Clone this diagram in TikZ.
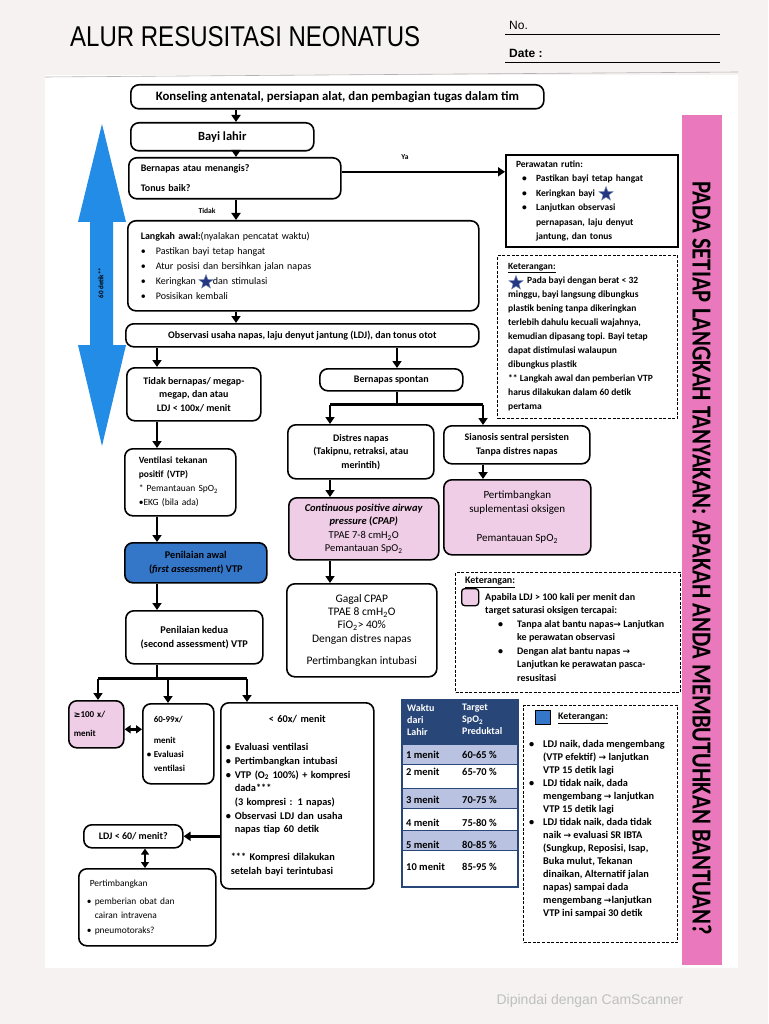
\documentclass[tikz,border=0pt]{standalone}
\usepackage{fontspec}
\setmainfont{Carlito}
\newfontfamily\hand{Liberation Sans}
\newfontfamily\djv{DejaVu Sans}
\usetikzlibrary{arrows.meta,shapes.geometric,calc}
\definecolor{pinkbox}{RGB}{240,205,230}
\definecolor{bluebox}{RGB}{52,118,200}
\definecolor{arrowblue}{RGB}{34,140,230}
\definecolor{stripc}{RGB}{234,120,188}
\definecolor{tabdark}{RGB}{40,70,120}
\definecolor{tabrow}{RGB}{185,195,225}
\definecolor{starblue}{RGB}{35,55,130}
\definecolor{bgc}{RGB}{246,242,242}
\newcommand{\fs}[2]{\fontsize{#1}{#2}\selectfont}
\newcommand{\bu}[1]{\makebox[#1][l]{\textbullet}}
\newcommand{\ra}{{\djv\bfseries\small →}}
\tikzset{
 box/.style={draw, line width=1.6pt, rounded corners=8pt, anchor=north west, inner sep=0pt, align=center, font=\bfseries\fs{10}{13.5}},
 arr/.style={line width=2.4pt, -{Triangle[length=7pt,width=9pt]}},
 darr/.style={line width=2.4pt, {Triangle[length=6pt,width=8pt]}-{Triangle[length=6pt,width=8pt]}},
 bar/.style={line width=2.8pt},
 dbox/.style={draw, line width=1.3pt, dash pattern=on 3pt off 1.6pt, anchor=north west, inner sep=0pt},
 txt/.style={anchor=north west, inner sep=0pt, align=left, font=\bfseries\fs{9.5}{13}},
 cell/.style={anchor=base west, inner sep=0pt, font=\bfseries\fs{10.5}{11}},
 bstar/.style={star, star points=5, star point ratio=2.4, fill=starblue, draw=starblue!60!white, line width=0.4pt, minimum size=15pt, inner sep=0pt},
}
\begin{document}
\begin{tikzpicture}[x=1pt,y=-1pt]
\useasboundingbox (0,0) rectangle (768,1024);
\fill[bgc] (0,0) rectangle (768,1024);
\fill[white] (45,75) rectangle (738,968);
\draw[gray!60, line width=0.6pt] (45,77) -- (738,72);

% header
\node[anchor=west, inner sep=0pt] (title) at (70,37) {\hand\resizebox{350pt}{20pt}{ALUR RESUSITASI NEONATUS}};
\node[anchor=base west, inner sep=0pt, font=\hand\fs{12}{14}] (no) at (509,30) {No.};
\draw[line width=0.8pt] (505,34) -- (720,34);
\node[anchor=base west, inner sep=0pt, font=\hand\bfseries\fs{12}{14}] (date) at (509,58) {Date :};
\draw[line width=0.8pt] (505,62) -- (720,62);
\node[text=gray!50, font=\hand\fs{14}{16}] (cs) at (590,1001) {Dipindai dengan CamScanner};

% column helpers
\coordinate (x98) at (98,0);
\coordinate (x145) at (145,0);
\coordinate (x157) at (157,0);
\coordinate (x168) at (168,0);
\coordinate (x236) at (236,0);
\coordinate (x247) at (247,0);
\coordinate (x330) at (330,0);
\coordinate (x397) at (397,0);
\coordinate (x483) at (483,0);

% pink strip
\fill[stripc] (682,115) rectangle (722,965);
\node[rotate=-90, inner sep=0pt] (strip) at (702,558) {\resizebox{753pt}{19pt}{\bfseries PADA SETIAP LANGKAH TANYAKAN: APAKAH ANDA MEMBUTUHKAN BANTUAN?}};

% blue double arrow
\fill[arrowblue] (102,124) -- (126,222) -- (113,222) -- (113,345) -- (126,345) -- (102,446) -- (78,345) -- (90,345) -- (90,222) -- (78,222) -- cycle;
\node[rotate=90, font=\bfseries\fs{7}{8}] (sixty) at (101,283) {60 detik**};

% main boxes
\node[box, minimum width=413pt, minimum height=24pt, font=\bfseries\fs{12.8}{14}] (kons) at (130,84) {Konseling antenatal, persiapan alat, dan pembagian tugas dalam tim};
\node[box, minimum width=183pt, minimum height=28pt, font=\bfseries\fs{12.5}{14}] (bayi) at (130,122) {Bayi lahir};
\node[box, minimum width=212pt, minimum height=41pt, text width=188pt, align=left, font=\bfseries\fs{10}{20}] (bern) at (128,157) {Bernapas atau menangis?\\Tonus baik?};
\node[draw, line width=2pt, anchor=north west, minimum width=172pt, minimum height=92pt, inner sep=0pt, text width=152pt, align=left, font=\bfseries\fs{9.5}{14.5}] (rutin) at (505,154) {Perawatan rutin:\\
\hspace*{6pt}\bu{14pt}Pastikan bayi tetap hangat\\
\hspace*{6pt}\bu{14pt}Keringkan bayi\\
\hspace*{6pt}\bu{14pt}\makebox[130pt][s]{Lanjutkan observasi}\\
\hspace*{20pt}\makebox[130pt][s]{pernapasan, laju denyut}\\
\hspace*{20pt}jantung, dan tonus};
\node[bstar] (st2) at (606,194) {};

\node[box, minimum width=351pt, minimum height=90pt, text width=325pt, align=left, font=\fs{10}{15}] (langkah) at (127,220) {\textbf{Langkah awal:}(nyalakan pencatat waktu)\\
\bu{15pt}Pastikan bayi tetap hangat\\
\bu{15pt}Atur posisi dan bersihkan jalan napas\\
\bu{15pt}Keringkan\hspace{17pt}dan stimulasi\\
\bu{15pt}Posisikan kembali};
\node[bstar] (st1) at (206,282) {};

\node[box, minimum width=353pt, minimum height=23pt] (obs) at (125,323) {Observasi usaha napas, laju denyut jantung (LDJ), dan tonus otot};
\node[box, minimum width=134pt, minimum height=53pt] (tidakb) at (126,367) {Tidak bernapas/ megap-\\megap, dan atau\\LDJ < 100x/ menit};
\node[box, minimum width=143pt, minimum height=22pt] (spontan) at (319,368) {Bernapas spontan};
\node[box, minimum width=146pt, minimum height=54pt] (distres) at (287,424) {Distres napas\\(Takipnu, retraksi, atau\\merintih)};
\node[box, minimum width=146pt, minimum height=38pt] (sian) at (443,425) {Sianosis sentral persisten\\Tanpa distres napas};
\node[box, minimum width=111pt, minimum height=67pt, text width=83pt, align=left, font=\bfseries\fs{9.5}{14}] (vent) at (124,448) {Ventilasi tekanan\\positif (VTP)\\{\mdseries * Pemantauan SpO\textsubscript{2}}\\{\mdseries\textbullet EKG (bila ada)}};
\node[box, fill=bluebox, minimum width=142pt, minimum height=40pt, font=\bfseries\fs{10.3}{14}] (awal) at (124,542) {Penilaian awal\\({\itshape first assessment}) VTP};
\node[box, minimum width=137pt, minimum height=53pt, font=\bfseries\fs{10.3}{14}] (kedua) at (125,610) {Penilaian kedua\\(second assessment) VTP};
\node[box, fill=pinkbox, minimum width=150pt, minimum height=62pt, font=\fs{10.5}{13.5}] (cpap) at (288,497) {\textbf{\itshape Continuous positive airway}\\\textbf{\itshape pressure} \textbf{(\itshape CPAP)}\\TPAE 7-8 cmH\textsubscript{2}O\\Pemantauan SpO\textsubscript{2}};
\node[box, fill=pinkbox, minimum width=147pt, minimum height=75pt, font=\fs{11}{14}] (supl) at (443,479) {Pertimbangkan\\suplementasi oksigen\\[15pt]Pemantauan SpO\textsubscript{2}};
\node[box, minimum width=150pt, minimum height=93pt, font=\fs{11.5}{13.3}] (gagal) at (286,583) {Gagal CPAP\\TPAE 8 cmH\textsubscript{2}O\\FiO\textsubscript{2}> 40\%\\Dengan distres napas\\[9pt]Pertimbangkan intubasi};

\node[box, fill=pinkbox, minimum width=55pt, minimum height=47pt, text width=45pt, align=left, font=\bfseries\fs{9}{19}] (ge) at (68,700) {{\djv\bfseries\footnotesize ≥}100 x/\\menit};
\node[box, minimum width=71pt, minimum height=80pt, text width=63pt, align=left, font=\bfseries\fs{9}{14}] (m6099) at (142,703) {\hspace*{7pt}60-99x/\\[7pt]\hspace*{7pt}menit\\\bu{7pt}Evaluasi\\\hspace*{7pt}ventilasi};
\node[box, minimum width=153pt, minimum height=186pt, text width=143pt, align=left, font=\bfseries\fs{10.3}{13.7}] (lt60) at (220,702) {\makebox[143pt][c]{< 60x/ menit}\\[14pt]
\bu{9pt}Evaluasi ventilasi\\
\bu{9pt}Pertimbangkan intubasi\\
\bu{9pt}VTP (O\textsubscript{2} 100\%) + kompresi\\
\hspace*{9pt}dada***\\
\hspace*{9pt}(3 kompresi : 1 napas)\\
\bu{9pt}Observasi LDJ dan usaha\\
\hspace*{9pt}napas tiap 60 detik\\[14pt]
\hspace*{5pt}*** Kompresi dilakukan\\
\hspace*{5pt}setelah bayi terintubasi};
\node[box, minimum width=99pt, minimum height=23pt, font=\bfseries\fs{10}{11}] (ldj) at (83,824) {LDJ < 60/ menit?};
\node[box, minimum width=137pt, minimum height=77pt, text width=121pt, align=left, font=\fs{9.4}{14.5}] (pert) at (78,868) {\hspace*{3pt}Pertimbangkan\\[3pt]\bu{8pt}pemberian obat dan\\\hspace*{8pt}cairan intravena\\\bu{8pt}pneumotoraks?};

% legend boxes
\node[dbox, minimum width=180pt, minimum height=163pt] (ket1) at (497,255) {};
\node[txt, font=\bfseries\fs{9.5}{14}] (ket1t) at (508,263) {\underline{Keterangan:}\\
\hspace*{19pt}Pada bayi dengan berat < 32\\
minggu, bayi langsung dibungkus\\
plastik bening tanpa dikeringkan\\
terlebih dahulu kecuali wajahnya,\\
kemudian dipasang topi. Bayi tetap\\
dapat distimulasi walaupun\\
dibungkus plastik\\
** Langkah awal dan pemberian VTP\\
harus dilakukan dalam 60 detik\\
pertama};
\node[bstar] (st3) at (516,283) {};

\node[dbox, minimum width=225pt, minimum height=120pt] (ket2) at (455,572) {};
\node[draw, fill=pinkbox, line width=1.3pt, rounded corners=3pt, anchor=north west, minimum width=17pt, minimum height=17pt, inner sep=0pt] (ket2sq) at (461,588) {};
\node[txt, font=\bfseries\fs{10}{13.5}] (ket2t) at (465,577) {\underline{Keterangan:}\\[3pt]
\hspace*{20pt}Apabila LDJ > 100 kali per menit dan\\
\hspace*{20pt}target saturasi oksigen tercapai:\\
\hspace*{33pt}\bu{19pt}Tanpa alat bantu napas\ra{} Lanjutkan\\
\hspace*{52pt}ke perawatan observasi\\
\hspace*{33pt}\bu{19pt}Dengan alat bantu napas \ra\\
\hspace*{52pt}Lanjutkan ke perawatan pasca-\\
\hspace*{52pt}resusitasi};

% table
\fill[tabdark] (402,700) rectangle (518,745);
\fill[tabrow] (402,745) rectangle (518,764);
\fill[tabrow] (402,788) rectangle (518,808);
\fill[tabrow] (402,830) rectangle (518,850);
\draw[tabdark, line width=0.8pt] (402,764) -- (518,764) (402,788) -- (518,788) (402,808) -- (518,808) (402,830) -- (518,830) (402,850) -- (518,850);
\draw[tabdark, line width=1.3pt] (402,700) rectangle (518,887);
\node[txt, text=white, font=\bfseries\fs{10}{12}] (th1) at (407,704) {Waktu\\dari\\Lahir};
\node[txt, text=white, font=\bfseries\fs{10}{12}] (th2) at (462,704) {Target\\SpO\textsubscript{2}\\Preduktal};
\node[cell] (r1a) at (406,758) {1 menit};  \node[cell] (r1b) at (462,758) {60-65 \%};
\node[cell] (r2a) at (406,775) {2 menit};  \node[cell] (r2b) at (462,775) {65-70 \%};
\node[cell] (r3a) at (406,803) {3 menit};  \node[cell] (r3b) at (462,803) {70-75 \%};
\node[cell] (r4a) at (406,826) {4 menit};  \node[cell] (r4b) at (462,826) {75-80 \%};
\node[cell] (r5a) at (406,848) {5 menit};  \node[cell] (r5b) at (462,848) {80-85 \%};
\node[cell] (r6a) at (406,870) {10 menit}; \node[cell] (r6b) at (462,870) {85-95 \%};

\node[dbox, minimum width=154pt, minimum height=237pt] (ket3) at (523,705) {};
\node[draw, fill=bluebox, line width=0.8pt, anchor=north west, minimum width=15pt, minimum height=14pt, inner sep=0pt] (ket3sq) at (535,710) {};
\node[txt, font=\bfseries\fs{10}{11}] (ket3h) at (558,713) {\underline{Keterangan:}};
\node[txt, font=\bfseries\fs{10.3}{13}] (ket3t) at (529,740) {\bu{14pt}LDJ naik, dada mengembang\\
\hspace*{14pt}(VTP efektif) \ra{} lanjutkan\\
\hspace*{14pt}VTP 15 detik lagi\\
\bu{14pt}LDJ tidak naik, dada\\
\hspace*{14pt}mengembang \ra{} lanjutkan\\
\hspace*{14pt}VTP 15 detik lagi\\
\bu{14pt}LDJ tidak naik, dada tidak\\
\hspace*{14pt}naik \ra{} evaluasi SR IBTA\\
\hspace*{14pt}(Sungkup, Reposisi, Isap,\\
\hspace*{14pt}Buka mulut, Tekanan\\
\hspace*{14pt}dinaikan, Alternatif jalan\\
\hspace*{14pt}napas) sampai dada\\
\hspace*{14pt}mengembang \ra lanjutkan\\
\hspace*{14pt}VTP ini sampai 30 detik};

% connectors
\draw[arr] (kons.south -| x236) -- (bayi.north -| x236);
\draw[arr] (bayi.south -| x236) -- (bern.north -| x236);
\draw[arr] ([yshift=6.5pt]bern.east) -- ([yshift=6.5pt]bern.east -| rutin.west);
\node[font=\bfseries\fs{7.5}{9}] (ya) at (405,157) {Ya};
\draw[arr] (bern.south -| x236) -- (langkah.north -| x236);
\node[font=\bfseries\fs{7.5}{9}] (tidak) at (207,211) {Tidak};
\draw[arr] (langkah.south -| x236) -- (obs.north -| x236);
\draw[arr] (obs.south -| x157) -- (tidakb.north -| x157);
\draw[arr] (obs.south -| x397) -- (spontan.north -| x397);
\draw[bar] (spontan.south -| x397) -- ++(0,13) coordinate (sb);
\draw[bar] (sb -| x330) -- (sb -| x483);
\draw[arr] (sb -| x330) -- (distres.north -| x330);
\draw[arr] (sb -| x483) -- (sian.north -| x483);
\draw[arr] (distres.south -| x330) -- (cpap.north -| x330);
\draw[arr] (cpap.south -| x330) -- (gagal.north -| x330);
\draw[arr] (sian.south -| x483) -- (supl.north -| x483);
\draw[arr] (tidakb.south -| x157) -- (vent.north -| x157);
\draw[arr] (vent.south -| x157) -- (awal.north -| x157);
\draw[arr] (awal.south -| x157) -- (kedua.north -| x157);
\draw[bar] (kedua.south -| x157) -- ++(0,14) coordinate (kb);
\draw[bar] (kb -| x98) -- (kb -| x247);
\draw[arr] (kb -| x98) -- (ge.north -| x98);
\draw[arr] (kb -| x168) -- (m6099.north -| x168);
\draw[arr] (kb -| x247) -- (lt60.north -| x247);
\draw[darr] ([yshift=-5pt]ge.east) -- ([yshift=-5pt]ge.east -| m6099.west);
\draw[arr] (lt60.west |- ldj.east) -- (ldj.east);
\draw[darr] (ldj.south -| x145) -- (pert.north -| x145);
\end{tikzpicture}
\end{document}
